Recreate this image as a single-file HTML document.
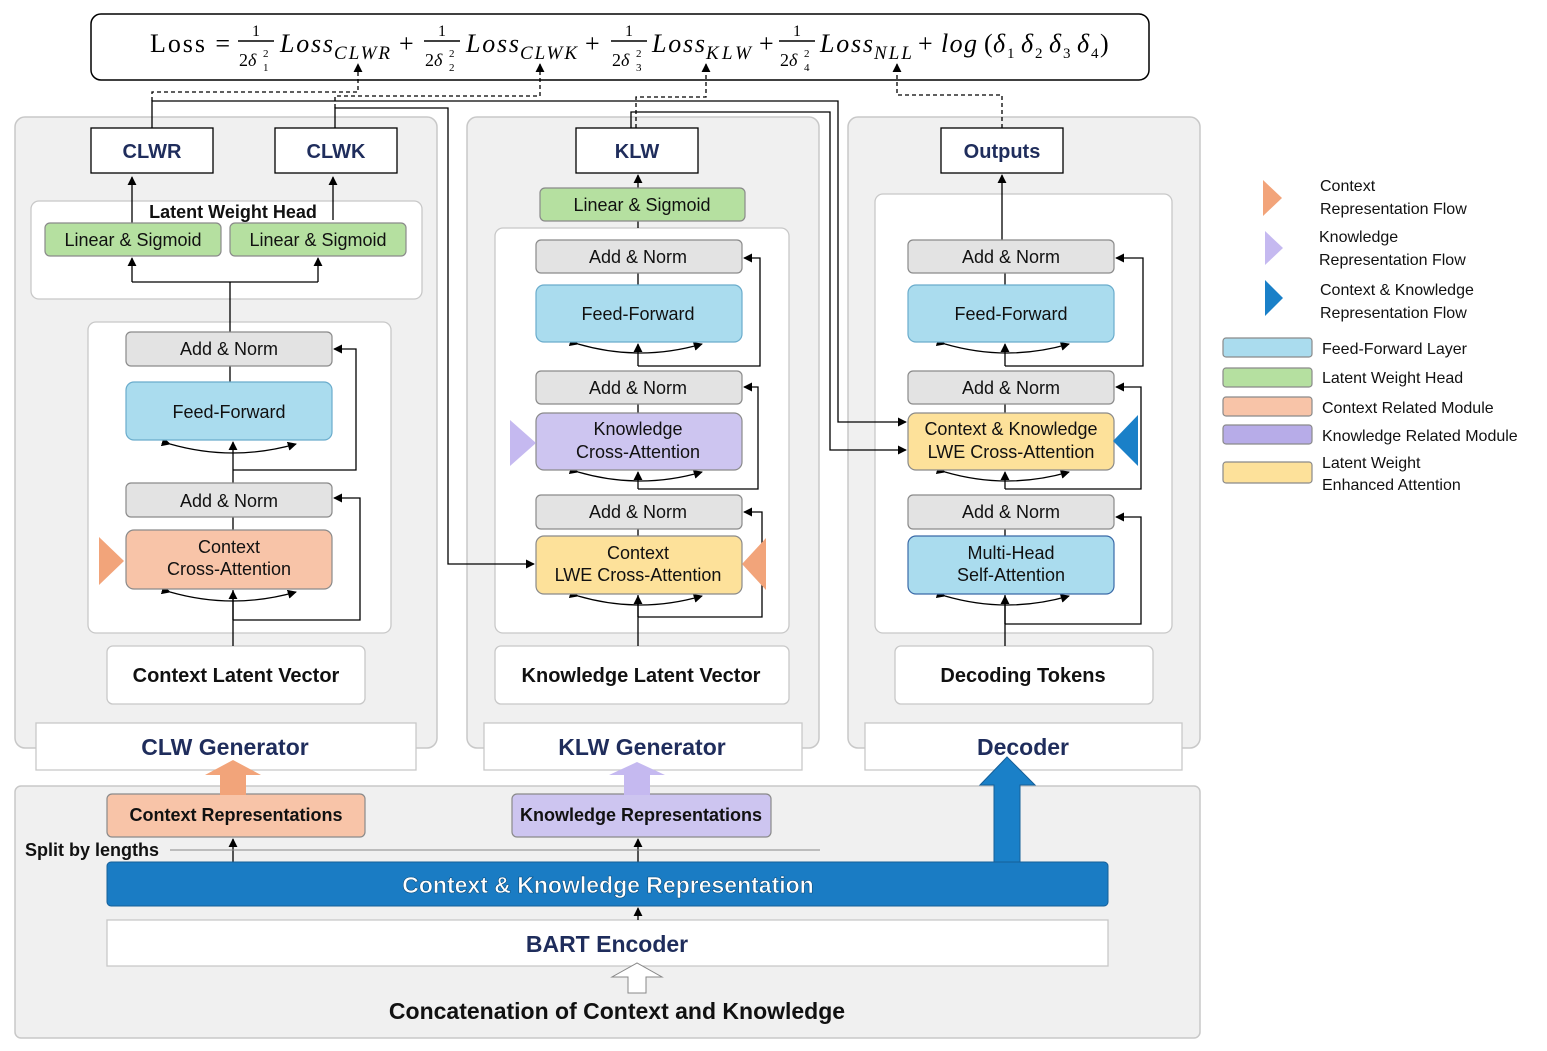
<!DOCTYPE html>
<html><head><meta charset="utf-8"><style>
body{margin:0;background:#fff;width:1547px;height:1051px;overflow:hidden;position:relative;font-family:"Liberation Sans",sans-serif}
svg{position:absolute;left:0;top:0}
</style></head><body>
<svg width="1547" height="1051" viewBox="0 0 1547 1051" font-family="Liberation Sans, sans-serif">
<defs>
<marker id="a" viewBox="0 0 10 10" refX="9" refY="5" markerWidth="7" markerHeight="7" orient="auto"><path d="M0,0L10,5L0,10z" fill="#000"/></marker>
</defs>
<!-- panels -->
<g fill="#f0f0f0" stroke="#c8c8c8" stroke-width="1.5">
<rect x="15" y="117" width="422" height="631" rx="10"/>
<rect x="467" y="117" width="352" height="631" rx="10"/>
<rect x="848" y="117" width="352" height="631" rx="10"/>
<rect x="15" y="786" width="1185" height="252" rx="6"/>
</g>
<rect x="91" y="14" width="1058" height="66" rx="10" fill="#fff" stroke="#000" stroke-width="1.5"/>
<!-- white inner boxes -->
<g fill="#fff" stroke="#c8c8c8" stroke-width="1.3">
<rect x="31" y="201" width="391" height="98" rx="8"/>
<rect x="88" y="322" width="303" height="311" rx="8"/>
<rect x="495" y="228" width="294" height="405" rx="8"/>
<rect x="875" y="194" width="297" height="439" rx="8"/>
<rect x="107" y="646" width="258" height="58" rx="6"/>
<rect x="495" y="646" width="294" height="58" rx="6"/>
<rect x="895" y="646" width="258" height="58" rx="6"/>
<rect x="36" y="723" width="380" height="47"/>
<rect x="484" y="723" width="318" height="47"/>
<rect x="865" y="723" width="317" height="47"/>
<rect x="107" y="920" width="1001" height="46"/>
</g>
<!-- connectors top -->
<g fill="none" stroke="#000" stroke-width="1.3">
<path d="M152,128V101H838V422H906" marker-end="url(#a)"/>
<path d="M335,128V108H448V564H534" marker-end="url(#a)"/>
<path d="M631,128V112H830V450H906" marker-end="url(#a)"/>
</g>
<g fill="none" stroke="#000" stroke-width="1.3" stroke-dasharray="4,3">
<path d="M152,101V92H358V64" marker-end="url(#a)"/>
<path d="M335,108V96H540V64" marker-end="url(#a)"/>
<path d="M636,128V97H706V64" marker-end="url(#a)"/>
<path d="M1002,128V95H897V64" marker-end="url(#a)"/>
</g>
<!-- output boxes -->
<g fill="#fff" stroke="#000" stroke-width="1.3">
<rect x="91" y="128" width="122" height="45"/><rect x="275" y="128" width="122" height="45"/>
<rect x="576" y="128" width="122" height="45"/><rect x="941" y="128" width="122" height="45"/>
</g>
<g font-weight="bold" font-size="20" fill="#1f2d5c" text-anchor="middle">
<text x="152" y="158">CLWR</text><text x="336" y="158">CLWK</text><text x="637" y="158">KLW</text><text x="1002" y="158">Outputs</text>
</g>
<!-- lines within -->
<g fill="none" stroke="#000" stroke-width="1.3">
<path d="M132,223V177" marker-end="url(#a)"/><path d="M333,220V177" marker-end="url(#a)"/>
<path d="M230,332V282"/><path d="M132,282H318"/><path d="M132,282V258" marker-end="url(#a)"/><path d="M318,282V258" marker-end="url(#a)"/>
<path d="M230,366V382M233,483V470M233,517V530M233,646V590"/>
<path d="M233,470H356V349H334" marker-end="url(#a)"/>
<path d="M233,620H360V498H334" marker-end="url(#a)"/>
<path d="M233,470V442" marker-end="url(#a)"/><path d="M233,620V591" marker-end="url(#a)"/>
<path d="M638,228V221"/><path d="M638,190V175" marker-end="url(#a)"/>
<path d="M638,273V285M638,404V413M638,529V536M638,646V595"/>
<path d="M638,366V344" marker-end="url(#a)"/><path d="M638,366H760V258H744" marker-end="url(#a)"/>
<path d="M638,489V472" marker-end="url(#a)"/><path d="M638,489H758V387H744" marker-end="url(#a)"/>
<path d="M638,617V596" marker-end="url(#a)"/><path d="M638,617H762V512H744" marker-end="url(#a)"/>
<path d="M1002,240V175" marker-end="url(#a)"/>
<path d="M1005,273V285M1005,404V413M1005,529V536M1005,646V595"/>
<path d="M1005,366V344" marker-end="url(#a)"/><path d="M1005,366H1143V258H1116" marker-end="url(#a)"/>
<path d="M1005,489V472" marker-end="url(#a)"/><path d="M1005,489H1141V387H1116" marker-end="url(#a)"/>
<path d="M1005,624V596" marker-end="url(#a)"/><path d="M1005,624H1141V517H1116" marker-end="url(#a)"/>
<path d="M170,444Q233,462 296,444" marker-start="url(#a)" marker-end="url(#a)"/>
<path d="M170,592Q233,610 296,592" marker-start="url(#a)" marker-end="url(#a)"/>
<path d="M578,344Q640,362 702,344" marker-start="url(#a)" marker-end="url(#a)"/>
<path d="M578,472Q640,490 702,472" marker-start="url(#a)" marker-end="url(#a)"/>
<path d="M578,596Q640,614 702,596" marker-start="url(#a)" marker-end="url(#a)"/>
<path d="M945,344Q1007,362 1069,344" marker-start="url(#a)" marker-end="url(#a)"/>
<path d="M945,472Q1007,490 1069,472" marker-start="url(#a)" marker-end="url(#a)"/>
<path d="M945,596Q1007,614 1069,596" marker-start="url(#a)" marker-end="url(#a)"/>
<path d="M233,862V839" marker-end="url(#a)"/><path d="M638,862V839" marker-end="url(#a)"/><path d="M638,920V908" marker-end="url(#a)"/>
</g>
<path d="M170,850H820" stroke="#888" stroke-width="1"/>
<!-- modules -->
<g stroke="#8a8a8a" stroke-width="1.2">
<rect x="45" y="223" width="176" height="33" rx="5" fill="#b5e0a0"/><rect x="230" y="223" width="176" height="33" rx="5" fill="#b5e0a0"/>
<rect x="540" y="188" width="205" height="33" rx="5" fill="#b5e0a0"/>
<rect x="126" y="332" width="206" height="34" rx="5" fill="#e3e3e3"/>
<rect x="126" y="382" width="206" height="58" rx="8" fill="#aadcee" stroke="#6aaccc"/>
<rect x="126" y="483" width="206" height="34" rx="5" fill="#e3e3e3"/>
<rect x="126" y="530" width="206" height="59" rx="8" fill="#f8c4a8"/>
<rect x="536" y="240" width="206" height="33" rx="5" fill="#e3e3e3"/>
<rect x="536" y="285" width="206" height="57" rx="8" fill="#aadcee" stroke="#6aaccc"/>
<rect x="536" y="371" width="206" height="33" rx="5" fill="#e3e3e3"/>
<rect x="536" y="413" width="206" height="57" rx="8" fill="#cdc5f0"/>
<rect x="536" y="495" width="206" height="34" rx="5" fill="#e3e3e3"/>
<rect x="536" y="536" width="206" height="58" rx="8" fill="#fde19a"/>
<rect x="908" y="240" width="206" height="33" rx="5" fill="#e3e3e3"/>
<rect x="908" y="285" width="206" height="57" rx="8" fill="#aadcee" stroke="#6aaccc"/>
<rect x="908" y="371" width="206" height="33" rx="5" fill="#e3e3e3"/>
<rect x="908" y="413" width="206" height="57" rx="8" fill="#fde19a"/>
<rect x="908" y="495" width="206" height="34" rx="5" fill="#e3e3e3"/>
<rect x="908" y="536" width="206" height="58" rx="8" fill="#aadcee" stroke="#3a6aa8"/>
<rect x="107" y="794" width="258" height="43" rx="5" fill="#f8c4a8"/>
<rect x="512" y="794" width="259" height="43" rx="5" fill="#cdc5f0"/>
<rect x="1223" y="338" width="89" height="19" rx="3" fill="#aadcee"/>
<rect x="1223" y="368" width="89" height="19" rx="3" fill="#b5e0a0"/>
<rect x="1223" y="397" width="89" height="19" rx="3" fill="#f8c4a8"/>
<rect x="1223" y="425" width="89" height="19" rx="3" fill="#b7ace8"/>
<rect x="1223" y="462" width="89" height="21" rx="3" fill="#fde19a"/>
</g>
<rect x="107" y="862" width="1001" height="44" rx="4" fill="#1a7cc4" stroke="#155f99"/>
<!-- triangles -->
<path d="M99,537L124,561L99,585z" fill="#f2a47a"/>
<path d="M510,420L536,443L510,466z" fill="#c5b9f0"/>
<path d="M766,538L742,564L766,590z" fill="#f2a47a"/>
<path d="M1138,415L1113,441L1138,466z" fill="#1a80c8"/>
<path d="M1263,180L1282,198L1263,216z" fill="#f2a47a"/>
<path d="M1265,231L1283,248L1265,265z" fill="#c5b9f0"/>
<path d="M1265,280L1283,298L1265,316z" fill="#1a80c8"/>
<!-- block arrows -->
<path d="M220,795V775H205L233,760L261,775H246V795z" fill="#f2a47a"/>
<path d="M624,795V775H609L637,762L665,775H650V795z" fill="#c5b9f0"/>
<path d="M994,862V785H980L1007,757L1035,785H1020V862z" fill="#1a80c8" stroke="#155f99"/>
<path d="M628,993V977H612L637,963L662,977H646V993z" fill="#fff" stroke="#888"/>
<!-- formula -->
<g font-family="Liberation Serif, serif" fill="#000">
<text x="150" y="52" font-size="26" textLength="80">Loss =</text>
<g font-size="26" font-style="italic">
<text x="280" y="52" textLength="53">Loss</text>
<text x="466" y="52" textLength="53">Loss</text>
<text x="652" y="52" textLength="53">Loss</text>
<text x="820" y="52" textLength="53">Loss</text>
</g>
<g font-size="19" font-style="italic">
<text x="334" y="59" textLength="56">CLWR</text>
<text x="520" y="59" textLength="57">CLWK</text>
<text x="706" y="59" textLength="45">KLW</text>
<text x="874" y="59" textLength="38">NLL</text>
</g>
<g font-size="26">
<text x="399" y="52">+</text><text x="585" y="52">+</text><text x="759" y="52">+</text><text x="918" y="52">+</text>
</g>
<text x="941" y="52" font-size="26" font-style="italic" textLength="36">log</text>
<text x="984" y="52" font-size="26">(</text>
<g font-size="26" font-style="italic"><text x="993" y="52">δ</text><text x="1021" y="52">δ</text><text x="1049" y="52">δ</text><text x="1077" y="52">δ</text></g>
<g font-size="15"><text x="1007" y="58">1</text><text x="1035" y="58">2</text><text x="1063" y="58">3</text><text x="1091" y="58">4</text></g>
<text x="1100" y="52" font-size="26">)</text>
<g font-size="16" text-anchor="middle"><text x="256" y="36">1</text><text x="442" y="36">1</text><text x="629" y="36">1</text><text x="797" y="36">1</text></g>
<g stroke="#000" stroke-width="1.4"><path d="M238,41H274M424,41H460M611,41H647M779,41H815"/></g>
<g font-size="18"><text x="239" y="66">2<tspan font-style="italic">δ</tspan></text><text x="425" y="66">2<tspan font-style="italic">δ</tspan></text><text x="612" y="66">2<tspan font-style="italic">δ</tspan></text><text x="780" y="66">2<tspan font-style="italic">δ</tspan></text></g>
<g font-size="11"><text x="263" y="57">2</text><text x="449" y="57">2</text><text x="636" y="57">2</text><text x="804" y="57">2</text>
<text x="263" y="71">1</text><text x="449" y="71">2</text><text x="636" y="71">3</text><text x="804" y="71">4</text></g>
</g>
<!-- texts -->
<g font-size="18" fill="#111" text-anchor="middle">
<text x="133" y="246">Linear &amp; Sigmoid</text><text x="318" y="246">Linear &amp; Sigmoid</text><text x="642" y="211">Linear &amp; Sigmoid</text>
<text x="229" y="355">Add &amp; Norm</text><text x="229" y="418">Feed-Forward</text><text x="229" y="507">Add &amp; Norm</text>
<text x="229" y="553">Context</text><text x="229" y="575">Cross-Attention</text>
<text x="638" y="263">Add &amp; Norm</text><text x="638" y="320">Feed-Forward</text><text x="638" y="394">Add &amp; Norm</text>
<text x="638" y="435">Knowledge</text><text x="638" y="458">Cross-Attention</text><text x="638" y="518">Add &amp; Norm</text>
<text x="638" y="559">Context</text><text x="638" y="581">LWE Cross-Attention</text>
<text x="1011" y="263">Add &amp; Norm</text><text x="1011" y="320">Feed-Forward</text><text x="1011" y="394">Add &amp; Norm</text>
<text x="1011" y="435">Context &amp; Knowledge</text><text x="1011" y="458">LWE Cross-Attention</text><text x="1011" y="518">Add &amp; Norm</text>
<text x="1011" y="559">Multi-Head</text><text x="1011" y="581">Self-Attention</text>
</g>
<g font-size="18" font-weight="bold" fill="#111" text-anchor="middle">
<text x="233" y="218">Latent Weight Head</text>
<text x="236" y="821">Context Representations</text><text x="641" y="821">Knowledge Representations</text>
</g>
<text x="25" y="856" font-size="18" font-weight="bold" fill="#111">Split by lengths</text>
<g font-size="20" font-weight="bold" fill="#111" text-anchor="middle">
<text x="236" y="682">Context Latent Vector</text><text x="641" y="682">Knowledge Latent Vector</text><text x="1023" y="682">Decoding Tokens</text>
</g>
<g font-size="23" font-weight="bold" fill="#1f2d5c" text-anchor="middle">
<text x="225" y="755">CLW Generator</text><text x="642" y="755">KLW Generator</text><text x="1023" y="755">Decoder</text>
<text x="607" y="952">BART Encoder</text>
</g>
<text x="608" y="893" font-size="23" font-weight="bold" fill="#fff" text-anchor="middle" stroke="#0d4c7a" stroke-width="0.6">Context &amp; Knowledge Representation</text>
<text x="617" y="1019" font-size="23" font-weight="bold" fill="#111" text-anchor="middle">Concatenation of Context and Knowledge</text>
<g font-size="16" fill="#111">
<text x="1320" y="191">Context</text><text x="1320" y="214">Representation Flow</text>
<text x="1319" y="242">Knowledge</text><text x="1319" y="265">Representation Flow</text>
<text x="1320" y="295">Context &amp; Knowledge</text><text x="1320" y="318">Representation Flow</text>
<text x="1322" y="354">Feed-Forward Layer</text><text x="1322" y="383">Latent Weight Head</text>
<text x="1322" y="413">Context Related Module</text><text x="1322" y="441">Knowledge Related Module</text>
<text x="1322" y="468">Latent Weight</text><text x="1322" y="490">Enhanced Attention</text>
</g>
</svg>
</body></html>
